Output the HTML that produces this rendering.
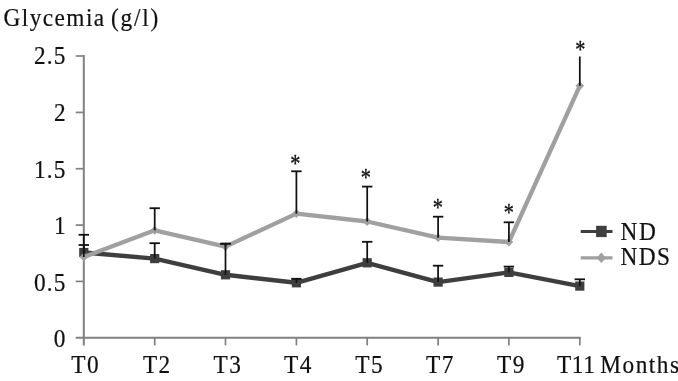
<!DOCTYPE html>
<html><head><meta charset="utf-8"><title>Glycemia</title>
<style>html,body{margin:0;padding:0;background:#fff}svg{display:block}</style></head>
<body>
<svg width="678" height="381" viewBox="0 0 678 381">
<rect width="678" height="381" fill="#fff"/>
<g stroke="#808080" stroke-width="2" fill="none">
<path d="M83.8 55.1V345.4"/>
<path d="M75.7 337.8H580.7"/>
<path stroke-width="1.7" d="M75.7 281.4H83.8"/>
<path stroke-width="1.7" d="M75.7 225.1H83.8"/>
<path stroke-width="1.7" d="M75.7 168.7H83.8"/>
<path stroke-width="1.7" d="M75.7 112.4H83.8"/>
<path stroke-width="1.7" d="M75.7 56.0H83.8"/>
<path stroke-width="1.7" d="M154.7 337.8V345.4"/>
<path stroke-width="1.7" d="M225.5 337.8V345.4"/>
<path stroke-width="1.7" d="M296.4 337.8V345.4"/>
<path stroke-width="1.7" d="M367.2 337.8V345.4"/>
<path stroke-width="1.7" d="M438.1 337.8V345.4"/>
<path stroke-width="1.7" d="M508.9 337.8V345.4"/>
<path stroke-width="1.7" d="M579.8 337.8V345.4"/>
</g>
<polyline points="83.8,252.5 154.7,258.6 225.5,274.8 296.4,282.8 367.2,262.8 438.1,282.1 508.9,272.4 579.8,286.1" fill="none" stroke="#3e3e3e" stroke-width="4.4" stroke-linejoin="round" stroke-linecap="round"/>
<rect x="79.2" y="247.9" width="9.2" height="9.2" fill="#3e3e3e"/>
<rect x="150.1" y="254.0" width="9.2" height="9.2" fill="#3e3e3e"/>
<rect x="220.9" y="270.2" width="9.2" height="9.2" fill="#3e3e3e"/>
<rect x="291.8" y="278.2" width="9.2" height="9.2" fill="#3e3e3e"/>
<rect x="362.6" y="258.2" width="9.2" height="9.2" fill="#3e3e3e"/>
<rect x="433.5" y="277.5" width="9.2" height="9.2" fill="#3e3e3e"/>
<rect x="504.3" y="267.8" width="9.2" height="9.2" fill="#3e3e3e"/>
<rect x="575.2" y="281.5" width="9.2" height="9.2" fill="#3e3e3e"/>
<polyline points="83.8,257.0 154.7,230.3 225.5,246.6 296.4,213.6 367.2,221.5 438.1,237.7 508.9,242.0 579.8,85.8" fill="none" stroke="#a0a0a0" stroke-width="4.3" stroke-linejoin="round" stroke-linecap="round"/>
<path d="M83.8 252.6L88.1 257.0L83.8 261.4L79.5 257.0Z" fill="#a0a0a0"/>
<path d="M154.7 225.9L159.0 230.3L154.7 234.7L150.4 230.3Z" fill="#a0a0a0"/>
<path d="M225.5 242.2L229.8 246.6L225.5 251.0L221.2 246.6Z" fill="#a0a0a0"/>
<path d="M296.4 209.2L300.7 213.6L296.4 218.0L292.1 213.6Z" fill="#a0a0a0"/>
<path d="M367.2 217.1L371.5 221.5L367.2 225.9L362.9 221.5Z" fill="#a0a0a0"/>
<path d="M438.1 233.3L442.4 237.7L438.1 242.1L433.8 237.7Z" fill="#a0a0a0"/>
<path d="M508.9 237.6L513.2 242.0L508.9 246.4L504.6 242.0Z" fill="#a0a0a0"/>
<path d="M579.8 81.4L584.1 85.8L579.8 90.2L575.5 85.8Z" fill="#a0a0a0"/>
<g stroke="#111" fill="none">
<path stroke-width="1.75" d="M83.8 252.5V245.0"/><path stroke-width="1.8" d="M78.6 245.0H89.0"/>
<path stroke-width="1.75" d="M154.7 258.6V243.2"/><path stroke-width="1.8" d="M149.5 243.2H159.9"/>
<path stroke-width="1.75" d="M225.5 274.8V243.7"/><path stroke-width="1.8" d="M220.3 243.7H230.7"/>
<path stroke-width="1.75" d="M296.4 282.8V278.8"/><path stroke-width="1.8" d="M291.2 278.8H301.6"/>
<path stroke-width="1.75" d="M367.2 262.8V241.8"/><path stroke-width="1.8" d="M362.0 241.8H372.4"/>
<path stroke-width="1.75" d="M438.1 282.1V265.7"/><path stroke-width="1.8" d="M432.9 265.7H443.3"/>
<path stroke-width="1.75" d="M508.9 272.4V266.6"/><path stroke-width="1.8" d="M503.7 266.6H514.1"/>
<path stroke-width="1.75" d="M579.8 286.1V279.3"/><path stroke-width="1.8" d="M574.6 279.3H585.0"/>
<path stroke-width="1.75" d="M83.8 257.0V234.8"/><path stroke-width="1.8" d="M78.6 234.8H89.0"/>
<path stroke-width="1.75" d="M154.7 230.3V208.2"/><path stroke-width="1.8" d="M149.5 208.2H159.9"/>
<path stroke-width="1.75" d="M225.5 246.6V243.7"/><path stroke-width="1.8" d="M220.3 243.7H230.7"/>
<path stroke-width="1.75" d="M296.4 213.6V171.3"/><path stroke-width="1.8" d="M291.2 171.3H301.6"/>
<path stroke-width="1.75" d="M367.2 221.5V186.6"/><path stroke-width="1.8" d="M362.0 186.6H372.4"/>
<path stroke-width="1.75" d="M438.1 237.7V216.7"/><path stroke-width="1.8" d="M432.9 216.7H443.3"/>
<path stroke-width="1.75" d="M508.9 242.0V222.3"/><path stroke-width="1.8" d="M503.7 222.3H514.1"/>
<path stroke-width="1.75" d="M579.8 85.8V56.5"/>
</g>
<path d="M580.7 231.5H612.5" stroke="#3e3e3e" stroke-width="3.1"/>
<rect x="596.1" y="225.8" width="10.6" height="11.3" fill="#3e3e3e"/>
<path d="M580.7 257.9H612.5" stroke="#a0a0a0" stroke-width="3.1"/>
<path d="M601.3 252.6L606.1 257.9L601.3 263.1L596.6 257.9Z" fill="#a0a0a0"/>
<g font-family="'Liberation Serif', 'Times New Roman', serif" font-size="24.3" fill="#111" stroke="#111" stroke-width="0.2" stroke-linejoin="round">
<text transform="translate(3.56 25.5) scale(0.96 1)"><tspan x="0" letter-spacing="1.49">Glycemia </tspan><tspan x="111.96" letter-spacing="1.84">(g/l)</tspan></text>
<text transform="translate(53.65 347.4) scale(0.96 1)" letter-spacing="0.00">0</text>
<text transform="translate(33.91 290.6) scale(0.96 1)" letter-spacing="1.18">0.5</text>
<text transform="translate(54.09 234.3) scale(0.96 1)" letter-spacing="0.00">1</text>
<text transform="translate(34.05 177.5) scale(0.96 1)" letter-spacing="1.11">1.5</text>
<text transform="translate(54.09 121.2) scale(0.96 1)" letter-spacing="0.00">2</text>
<text transform="translate(33.91 64.2) scale(0.96 1)" letter-spacing="1.17">2.5</text>
<text transform="translate(71.28 373.3) scale(0.96 1)" letter-spacing="1.56">T0</text>
<text transform="translate(142.88 373.3) scale(0.96 1)" letter-spacing="1.56">T2</text>
<text transform="translate(213.41 373.3) scale(0.96 1)" letter-spacing="1.56">T3</text>
<text transform="translate(284.06 373.3) scale(0.96 1)" letter-spacing="1.56">T4</text>
<text transform="translate(355.27 373.3) scale(0.96 1)" letter-spacing="1.56">T5</text>
<text transform="translate(425.92 373.3) scale(0.96 1)" letter-spacing="1.56">T7</text>
<text transform="translate(496.91 373.3) scale(0.96 1)" letter-spacing="1.56">T9</text>
<text transform="translate(557.12 373.3) scale(0.96 1)" letter-spacing="0.53">T11</text>
<text transform="translate(600.26 373.3) scale(0.96 1)" letter-spacing="1.56">Months</text>
<text transform="translate(620.42 240.2) scale(0.96 1)" letter-spacing="1.89">ND</text>
<text transform="translate(620.42 264.8) scale(0.96 1)" letter-spacing="1.51">NDS</text>
<text transform="translate(295.4 160.2) scale(1.04 1.24)" x="0" y="9.6" text-anchor="middle" font-size="19.5" stroke-width="0.3">*</text>
<text transform="translate(365.8 174.0) scale(1.04 1.24)" x="0" y="9.6" text-anchor="middle" font-size="19.5" stroke-width="0.3">*</text>
<text transform="translate(437.9 204.0) scale(1.04 1.24)" x="0" y="9.6" text-anchor="middle" font-size="19.5" stroke-width="0.3">*</text>
<text transform="translate(508.9 209.3) scale(1.04 1.24)" x="0" y="9.6" text-anchor="middle" font-size="19.5" stroke-width="0.3">*</text>
<text transform="translate(580.2 45.6) scale(1.04 1.24)" x="0" y="9.6" text-anchor="middle" font-size="19.5" stroke-width="0.3">*</text>
</g>
</svg>
</body></html>
